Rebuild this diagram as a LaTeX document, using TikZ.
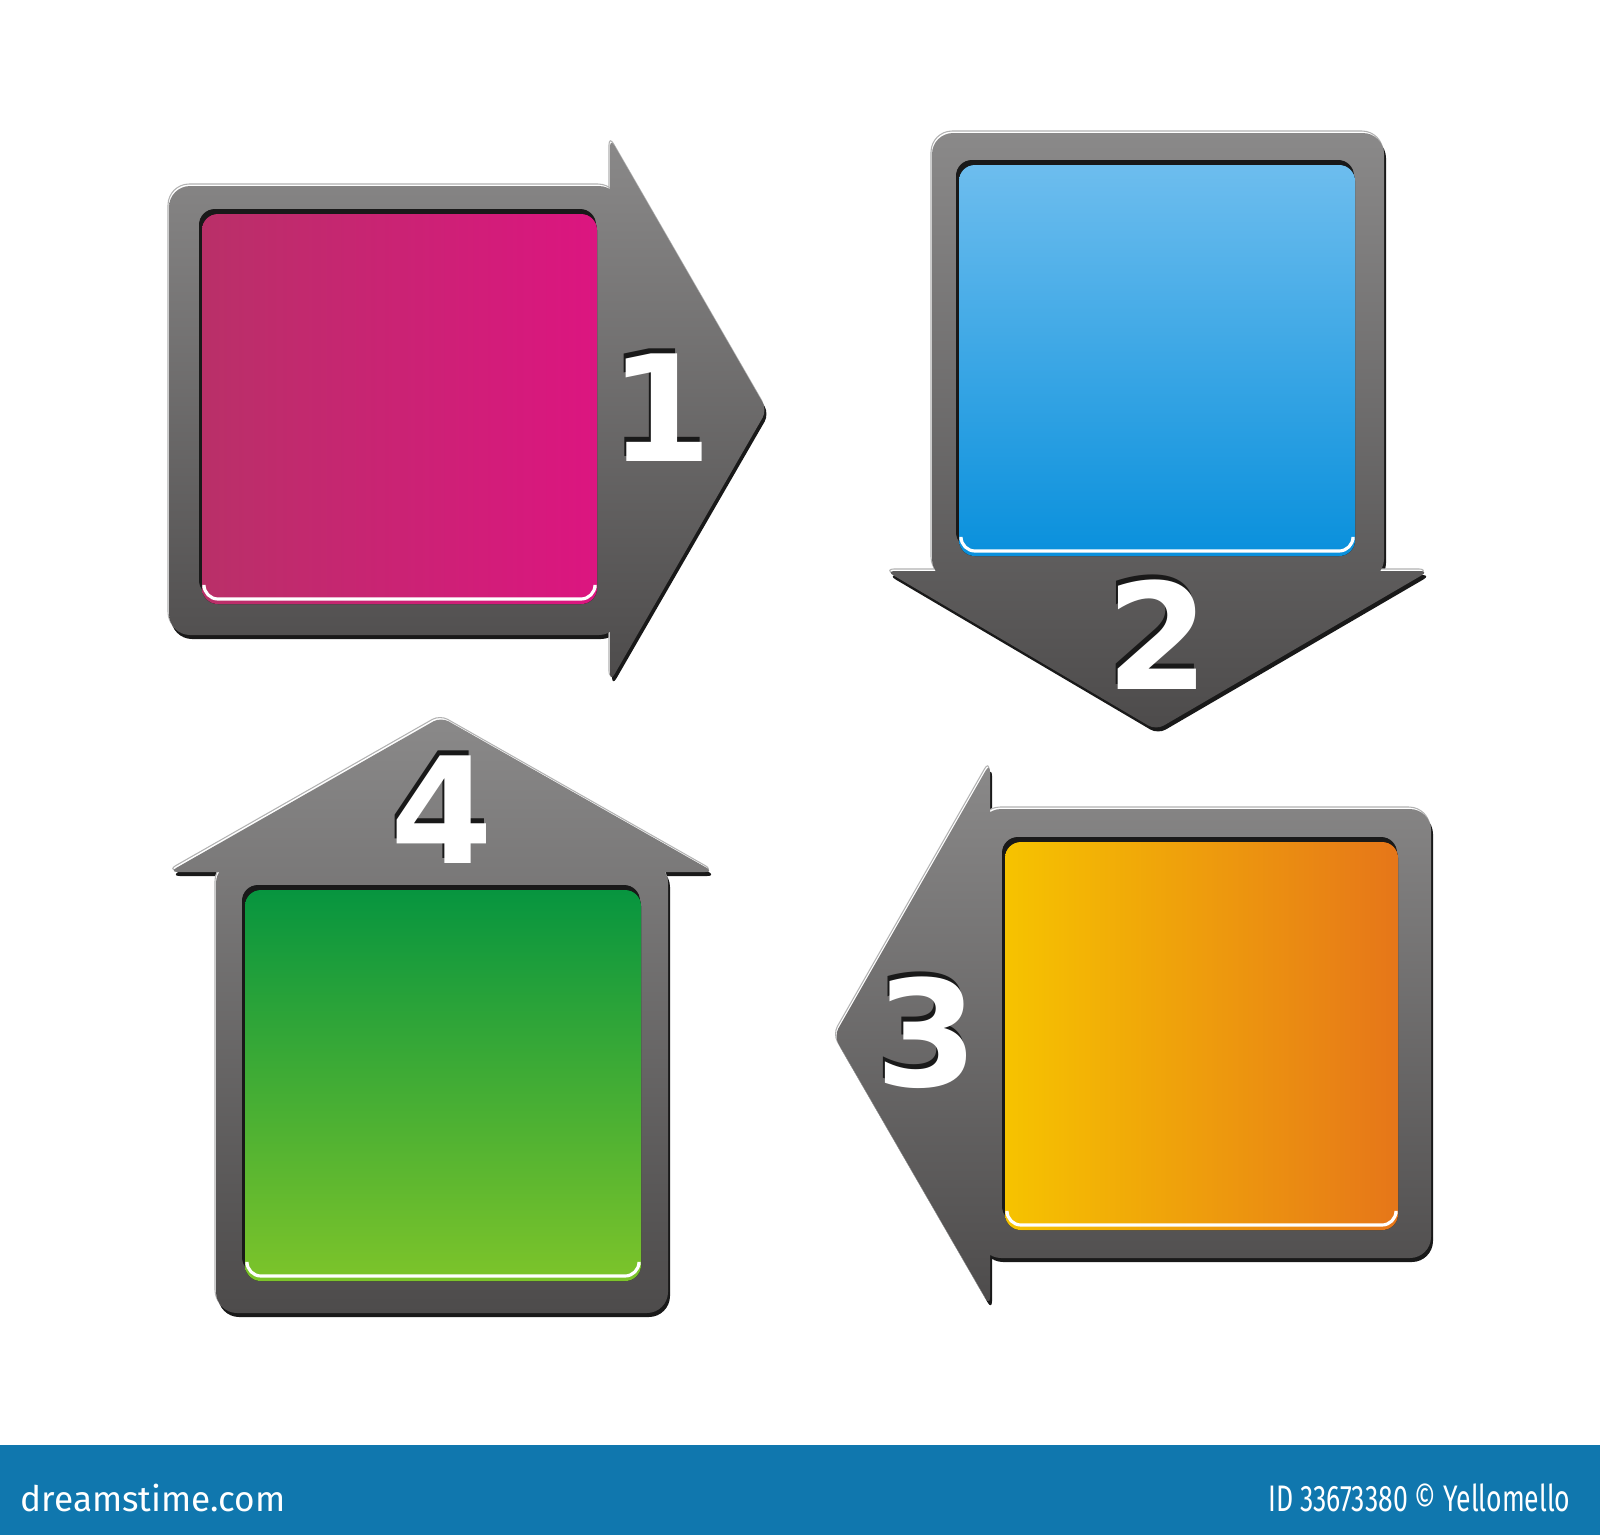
\documentclass[tikz,border=0pt]{standalone}
\usepackage{fontspec}
\usepackage{xcolor}
\newfontfamily\numfont{DejaVu Sans}
\newfontfamily\logofont{Fira Sans}

\definecolor{framehi}{HTML}{8A8989}
\definecolor{framelo}{HTML}{4D4B4B}
\definecolor{banner}{HTML}{1077AE}
\definecolor{magentaL}{HTML}{B93068}
\definecolor{magentaR}{HTML}{DC1580}
\definecolor{blueT}{HTML}{6DBDEE}
\definecolor{blueB}{HTML}{0990DC}
\definecolor{orangeL}{HTML}{F6C300}
\definecolor{orangeR}{HTML}{E67619}
\definecolor{greenT}{HTML}{07953F}
\definecolor{greenB}{HTML}{7DC42A}

\tikzset{
  frame/.style={top color=framehi, bottom color=framelo},
  frameshadow/.style={fill=black!90},
  framelight/.style={fill=white, draw=gray!60, line width=0.3},
  numtext/.style={text=white, font=\numfont\bfseries\fontsize{42}{42}\selectfont, inner sep=0pt},
  numshade/.style={text=black!90, font=\numfont\bfseries\fontsize{42}{42}\selectfont, inner sep=0pt}
}

% inner coloured panel: x1, y1, x2, y2, shading
\newcommand{\panel}[5]{%
  \fill[black!90, rounded corners=4.5pt] (#1-3,#2-5) rectangle (#3-1,#4-8);
  \fill[#5, rounded corners=4.5pt] (#1,#2) rectangle (#3,#4);
  \draw[white, line width=0.9pt, rounded corners=4pt] (#1+2,#4-16) |- (#3-2,#4-5) -- (#3-2,#4-16);
}

% outlines of the four arrow frames
\newcommand{\frameone}{[rounded corners=6pt] (169,186) -- (620,186) -- (620,635) -- (169,635) -- cycle
  [rounded corners=2.5pt] (610,138) -- (767,410) -- (610,682) -- cycle}
\newcommand{\frametwo}{[rounded corners=6pt] (932,133) -- (1384,133) -- (1384,580) -- (932,580) -- cycle
  [rounded corners=2.5pt] (886,571) -- (1429,571) -- (1156,730) -- cycle}
\newcommand{\framethree}{[rounded corners=6pt] (980,809) -- (1431,809) -- (1431,1258) -- (980,1258) -- cycle
  [rounded corners=2.5pt] (990,763) -- (990,1306) -- (834,1036) -- cycle}
\newcommand{\framefour}{[rounded corners=6pt] (216,862) -- (668,862) -- (668,1313) -- (216,1313) -- cycle
  [rounded corners=2.5pt] (169,872) -- (441,717) -- (714,872) -- cycle}

\begin{document}
\begin{tikzpicture}[x=0.01cm, y=-0.01cm]
  \useasboundingbox (0,0) rectangle (1600,1535);
  \fill[white] (0,0) rectangle (1600,1535);

  % 1: arrow to the right
  \fill[frameshadow, shift={(2,4)}] \frameone;
  \path[framelight, shift={(-1,-2)}] \frameone;
  \path[frame] \frameone;
  \panel{202}{214}{597}{604}{left color=magentaL, right color=magentaR}
  \node[numshade] (num1s) at (659,403) {1};
  \node[numtext] (num1) at (661,408) {1};

  % 2: arrow pointing down
  \fill[frameshadow, shift={(2,4)}] \frametwo;
  \path[framelight, shift={(-1,-2)}] \frametwo;
  \path[frame] \frametwo;
  \panel{959}{165}{1355}{556}{top color=blueT, bottom color=blueB}
  \node[numshade] (num2s) at (1156,630) {2};
  \node[numtext] (num2) at (1158,635) {2};

  % 3: arrow to the left
  \fill[frameshadow, shift={(2,4)}] \framethree;
  \path[framelight, shift={(-1,-2)}] \framethree;
  \path[frame] \framethree;
  \panel{1005}{842}{1398}{1230}{left color=orangeL, right color=orangeR}
  \node[numshade] (num3s) at (925,1028) {3};
  \node[numtext] (num3) at (927,1033) {3};

  % 4: arrow pointing up
  \fill[frameshadow, shift={(2,4)}] \framefour;
  \path[framelight, shift={(-1,-2)}] \framefour;
  \path[frame] \framefour;
  \panel{245}{890}{641}{1281}{top color=greenT, bottom color=greenB}
  \node[numshade] (num4s) at (440,805) {4};
  \node[numtext] (num4) at (442,810) {4};

  % banner
  \fill[banner] (0,1445) rectangle (1600,1535);
  \node[text=white, font=\logofont\fontsize{10}{10}\selectfont, anchor=west, inner sep=0pt] (logo) at (20,1498) {dreamstime.com};
  \node[text=white, font=\logofont\fontsize{10.5}{10.5}\selectfont, anchor=east, inner sep=0pt] (credit) at (1571,1498) {\scalebox{0.72}[1]{ID 33673380 © Yellomello}};
\end{tikzpicture}
\end{document}
